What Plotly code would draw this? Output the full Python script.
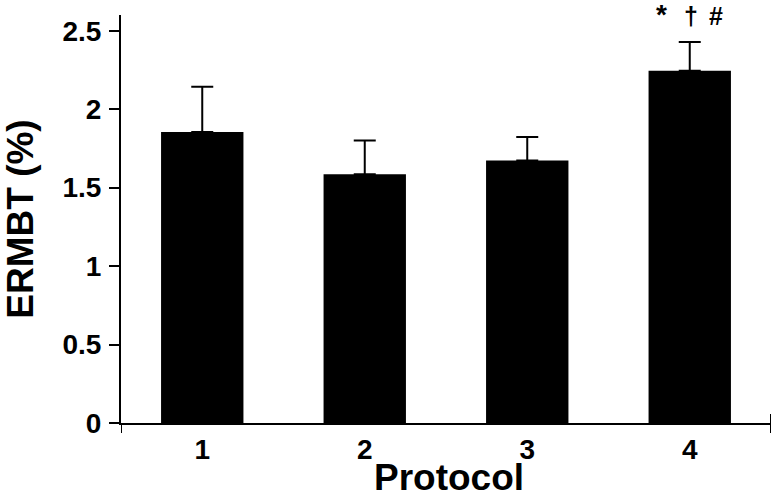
import plotly.graph_objects as go

categories = ["1", "2", "3", "4"]
values = [1.855, 1.585, 1.672, 2.244]
errors_plus = [0.287, 0.215, 0.150, 0.184]
y_tickvals = [0, 0.5, 1, 1.5, 2, 2.5]
y_ticktext = ["0", "0.5", "1", "1.5", "2", "2.5"]
signif_marks = ["*", "†", "#"]
signif_shift = [-28, 1, 26]
x_title = "Protocol"
y_title = "ERMBT (%)"

FONT = "Liberation Sans, Arial, sans-serif"

x_pos = [1, 2, 3, 4]

fig = go.Figure()
fig.add_trace(go.Bar(
    x=x_pos, y=values,
    marker=dict(color="black", line=dict(width=0)),
    width=0.507,
    error_y=dict(type="data", array=errors_plus, arrayminus=[0]*len(values),
                 symmetric=False, color="black", thickness=2, width=11),
))

for mark, sh in zip(signif_marks, signif_shift):
    fig.add_annotation(x=4, y=2.49, xref="x", yref="y", text=mark,
                       showarrow=False, yanchor="bottom", xshift=sh,
                       font=dict(family=FONT, size=28 if mark == "*" else 25,
                                 color="black", weight="bold"))

# x axis title placed as paper annotation
fig.add_annotation(x=0.505, y=-0.133, xref="paper", yref="paper", text=x_title,
                   showarrow=False, xanchor="center", yanchor="middle",
                   font=dict(family=FONT, size=37, color="black", weight="bold"))

# end ticks on the x axis
for xv in [0.5, 4.5]:
    fig.add_shape(type="line", xref="x", yref="paper", x0=xv, x1=xv,
                  y0=-10/407.7, y1=9/407.7 if xv > 1 else 0,
                  line=dict(color="black", width=2))

fig.update_layout(
    width=773, height=500,
    margin=dict(l=121, r=2, t=15, b=77),
    plot_bgcolor="white", paper_bgcolor="white",
    showlegend=False,
    font=dict(family=FONT, color="black"),
    xaxis=dict(range=[0.5, 4.5], tickvals=x_pos, ticktext=categories,
               showline=True, linecolor="black", linewidth=2, ticks="",
               showgrid=False, zeroline=False, automargin=False,
               tickfont=dict(family=FONT, size=28, color="black", weight="bold")),
    yaxis=dict(range=[0, 2.6], tickvals=y_tickvals, ticktext=y_ticktext,
               showline=True, linecolor="black", linewidth=2,
               ticks="outside", ticklen=10, tickwidth=2, tickcolor="black",
               ticklabelstandoff=2, automargin=False,
               showgrid=False, zeroline=False,
               tickfont=dict(family=FONT, size=28, color="black", weight="bold"),
               title=dict(text=y_title, standoff=24,
                          font=dict(family=FONT, size=37, color="black", weight="bold"))),
)

fig.write_html("out.html")
